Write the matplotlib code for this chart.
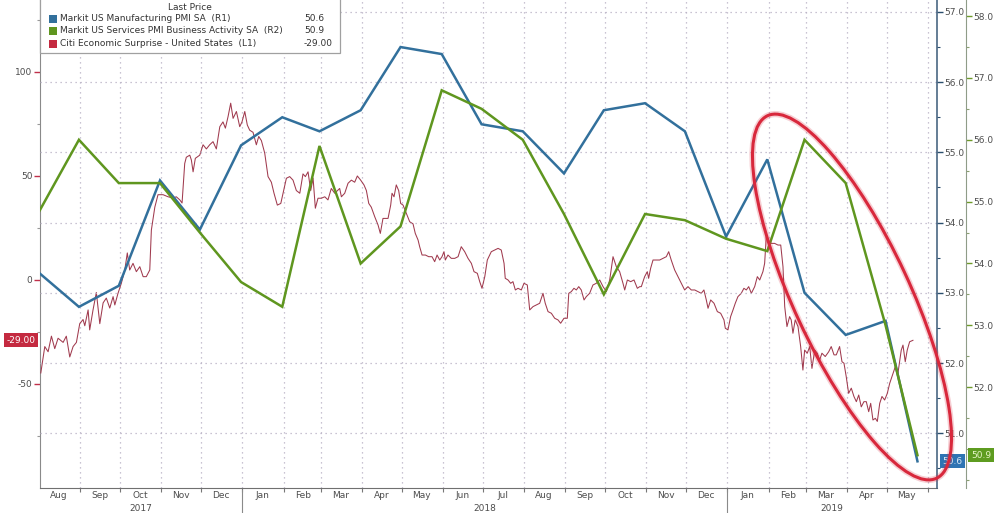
import numpy as np
import matplotlib
matplotlib.use("Agg")
import matplotlib.pyplot as plt
import matplotlib.dates as mdates
import matplotlib.transforms as mtransforms
from matplotlib.patches import Ellipse, Rectangle
from matplotlib.ticker import FixedLocator, NullFormatter, FormatStrFormatter

plt.rcParams['font.family'] = ['DejaVu Sans']
plt.rcParams['axes.unicode_minus'] = False

# ---------------- data ----------------
pmi_dates = ["2017-07-31", "2017-08-31", "2017-09-30", "2017-10-31", "2017-11-30", "2017-12-31",
             "2018-01-31", "2018-02-28", "2018-03-31", "2018-04-30", "2018-05-31", "2018-06-30",
             "2018-07-31", "2018-08-31", "2018-09-30", "2018-10-31", "2018-11-30", "2018-12-31",
             "2019-01-31", "2019-02-28", "2019-03-31", "2019-04-30", "2019-05-24"]
mfg_pmi = [53.3, 52.8, 53.1, 54.6, 53.9, 55.1, 55.5, 55.3, 55.6, 56.5, 56.4, 55.4,
           55.3, 54.7, 55.6, 55.7, 55.3, 53.8, 54.9, 53.0, 52.4, 52.6, 50.6]
svc_pmi = [54.8, 56.0, 55.3, 55.3, 54.5, 53.7, 53.3, 55.9, 54.0, 54.6, 56.8, 56.5,
           56.0, 54.8, 53.5, 54.8, 54.7, 54.4, 54.2, 56.0, 55.3, 53.0, 50.9]

citi_start = "2017-08-01"
citi_days = [1.3, 4.3, 6.8, 9.3, 11.8, 14.3, 18.1, 20.5, 23.1, 25.6, 28.1, 30.6, 33.1, 34.4, 36.9, 38.1,
             40.6, 43.1, 45.7, 48.2, 50.6, 53.2, 55.7, 57.0, 59.4, 61.9, 64.5, 66.4, 68.2, 70.7, 73.2,
             75.8, 78.3, 80.7, 83.3, 84.5, 87.1, 89.5, 93.3, 97.1, 100.8, 103.3, 105.9, 107.6, 109.6,
             110.8, 113.4,
             114.6, 115.9, 117.6, 120.9, 123.4, 125.9, 128.4, 130.9, 133.4, 136.0, 138.4, 140.2, 142.2,
             144.2, 146.0, 148.5, 151.0, 152.7, 154.8, 156.7, 158.5, 161.0, 163.5, 165.3, 167.3, 169.8,
             172.3, 174.8, 176.8, 179.3, 181.9, 183.6, 186.1, 188.6, 191.1, 193.6, 196.2, 198.6, 200.4,
             202.4, 204.4, 206.2, 207.9, 209.9, 212.4, 215.0, 217.4, 219.9, 222.5, 226.2,
             227.5, 230.0, 232.5, 235.0, 237.5, 239.5, 242.0, 244.5, 246.3, 248.1, 250.0, 252.6, 255.1,
             256.8, 258.8, 261.3, 262.6, 264.6, 265.6, 267.1, 268.8, 270.6, 272.1, 273.9, 276.4, 278.9,
             281.4, 283.1, 285.2, 286.4, 288.2, 290.7, 293.2, 295.7, 297.7, 299.5, 301.5, 303.2, 304.7,
             305.7, 307.7, 310.2, 312.8, 315.3, 317.7, 320.3, 322.8, 325.3, 327.3, 329.8, 331.6, 333.3,
             335.4, 337.3, 339.1,
             340.3, 342.9, 345.4, 347.8, 349.9, 350.8, 352.9, 354.9, 356.6, 358.4, 360.4, 362.9, 364.9,
             367.4, 369.2, 371.7, 374.2, 376.7, 379.2, 380.9, 383.0, 385.5, 388.0, 390.5, 392.5, 395.0,
             397.5, 398.6, 400.5, 402.5, 404.3, 406.1, 408.0, 410.1, 411.8, 414.3, 416.8, 419.3, 421.9,
             424.4, 426.9, 429.4, 431.9, 434.4, 436.9, 439.4, 440.7, 442.7, 445.2, 447.7, 450.2, 452.0,
             453.2, 455.7, 457.7, 458.7, 460.2, 462.0, 464.5, 467.0, 469.5, 472.0, 473.8, 475.7, 478.3,
             480.8, 483.3, 485.8, 488.3, 490.8, 493.4, 495.8, 498.3, 500.3, 502.1, 503.4, 505.4, 507.9,
             510.4, 512.9, 515.4, 516.4, 518.4, 520.4, 522.2, 523.9, 525.9, 528.4, 530.4, 532.2, 534.0,
             536.0, 538.5, 540.5, 542.3, 544.7, 546.0, 547.2, 549.0, 551.0, 553.5, 556.0, 558.1, 559.8,
             561.1, 562.8, 564.8,
             566.0, 567.3, 569.0, 571.1, 573.1, 574.8, 576.1, 578.1, 579.9, 581.6, 583.7, 585.6, 587.4,
             589.1, 591.6, 594.2, 596.1, 598.2, 599.9, 602.4, 604.2, 605.7, 607.4, 609.2, 611.2, 613.2,
             615.0, 616.8, 618.7, 620.7, 622.5, 624.3, 625.8, 627.5, 629.3, 630.8, 632.6, 634.3, 636.3,
             638.3, 640.1, 642.6, 644.3, 646.3, 648.8, 650.1, 651.8, 653.3, 655.1, 657.6]
citi_vals = [-44.7, -32, -34.5, -27, -33, -28, -30, -27, -37, -32, -30, -21, -19, -22, -14.4, -24,
             -14.4, -6, -21, -11, -8.7, -13.5, -8, -12, -6.4, -1.6, 4.8, 13, 4.8, 8, 4,
             6.4, 1.6, 1.6, 4.8, 24, 35, 41, 41, 40, 39.4, 40, 38.5, 37, 56,
             59, 60,
             57.7, 52, 58.5, 60, 65, 63, 65, 66.5, 63, 73.7, 76, 73, 78.5,
             85, 77.7, 81, 73.7, 76, 81, 74.5, 72, 71, 65, 69, 67, 61,
             49.7, 47, 41.7, 36, 36.8, 41.7, 48.9, 49.7, 48, 43, 41.7, 51, 49.7,
             52, 43, 49, 34.5, 39.3, 39.3, 40, 38.5, 44, 41.7, 44,
             40, 41.7, 46.5, 48, 47, 50, 48, 45.7, 43, 36.8, 35, 30.4, 26.4,
             22.4, 29.6, 29.6, 29.6, 36, 41.7, 40, 45.7, 43, 36.8, 36, 32, 28,
             27, 22.4, 19.2, 16, 12, 12, 11.2, 11.2, 8.8, 12, 9.6, 11.2, 13.6,
             9.6, 12, 10.4, 10.4, 11.2, 16, 13.6, 10.4, 8, 4, 3.2, -0.8, -4,
             1.6, 9.6, 12,
             13.6, 14.4, 15.2, 14.4, 8, 0.8, 0, -1.6, -0.8, -4.8, -4, -4.8, -1.6,
             -2.4, -14.4, -12.8, -12, -11.2, -6.4, -11.2, -15.2, -16, -18.4, -19.2, -20.8, -18.4,
             -18.4, -6.4, -5.6, -4, -4.8, -3.2, -4.8, -9.6, -8, -6.4, -2.4, -1.6, 0,
             -3.2, -5.6, 0, 11.2, 6.4, 4, -1.6, -4.8, 0, -0.8, 0, -4, -3.2,
             -3.2, 1.6, 4, 0.8, 5.6, 9.6, 9.6, 9.6, 10.4, 11.2, 13.6, 9.6, 4.8,
             1.6, -1.6, -4.8, -3.2, -4.8, -4.8, -5.6, -6.4, -4.8, -9.6, -13.6, -9.6, -11.2,
             -15.2, -16, -19.2, -23.2, -24, -17.6, -14.4, -11.2, -8, -6.4, -4, -4.8, -3.2,
             -6.4, -3.2, 1.6, 0, 4, 8, 20.8, 18.4, 17.6, 17.6, 16.8, 16.8, 6.4,
             -12.8, -22.4, -17.6,
             -19.2, -25.6, -19.2, -22.4, -32, -43.3, -33.7, -35.2, -32, -42.5, -33.7, -35.2, -38.5,
             -35.2, -36.8, -34.5, -32, -36, -36, -32, -39.3, -40, -46.5, -54.5, -52, -56,
             -58.5, -55.3, -61, -58.5, -58.5, -63.3, -59.3, -67.3, -66.5, -68, -59.3, -56, -57.7,
             -54.5, -49.7, -44.9, -41.7, -44.9, -33.7, -31.3, -39.3, -33.7, -29.7, -29.0]

series_names = ["Markit US Manufacturing PMI SA  (R1)",
                "Markit US Services PMI Business Activity SA  (R2)",
                "Citi Economic Surprise - United States  (L1)"]
last_labels = ["50.6", "50.9", "-29.00"]
month_fmt = "%b"
year_labels = ["2017", "2018", "2019"]

# ---------------- styling ----------------
C_BLUE = "#32709c"
C_GREEN = "#5f961f"
C_RED = "#a03a4e"
C_TXT = "#4d4d4d"
GRID = dict(color="#b8b0c4", linestyle=(0, (1, 3)), linewidth=0.9)
FS = 6.5

W, H = 1000, 513
fig = plt.figure(figsize=(W / 100, H / 100), dpi=100)
L, R, B, T = 40 / W, 937 / W, 25 / H, 1.0
ax = fig.add_axes([L, B, R - L, T - B])
ax1 = ax.twinx()
ax2 = ax.twinx()

base = mdates.date2num(np.datetime64(citi_start))
citi_x = base + np.array(citi_days)
pmi_x = mdates.date2num(np.array(pmi_dates, dtype="datetime64[D]"))

ax.plot(citi_x, citi_vals, color=C_RED, lw=0.75, zorder=3)
ax1.plot(pmi_x, mfg_pmi, color=C_BLUE, lw=1.8, solid_joinstyle="miter", zorder=3)
ax2.plot(pmi_x, svc_pmi, color=C_GREEN, lw=1.8, solid_joinstyle="miter", zorder=3)

ax.set_xlim(base + 0.7, base + 675.7)
ax.set_ylim(-100, 134.6)
ax1.set_ylim(50.22, 57.17)
ax2.set_ylim(50.37, 58.26)

# x axis: month ticks at boundaries, labels mid-month
ax.xaxis.set_major_locator(mdates.MonthLocator())
ax.xaxis.set_major_formatter(NullFormatter())
ax.xaxis.set_minor_locator(mdates.MonthLocator(bymonthday=16))
ax.xaxis.set_minor_formatter(mdates.DateFormatter(month_fmt))
ax.tick_params(axis="x", which="major", length=3, color="#777777", width=0.8)
ax.tick_params(axis="x", which="minor", length=0, pad=2.5, labelsize=FS, labelcolor=C_TXT)
ax.grid(axis="x", which="major", **GRID)

# year labels & separators
xmin, xmax = ax.get_xlim()
blend = mtransforms.blended_transform_factory(ax.transData, ax.transAxes)
for ylab in year_labels:
    ys = mdates.date2num(np.datetime64(ylab + "-01-01"))
    ye = mdates.date2num(np.datetime64(str(int(ylab) + 1) + "-01-01"))
    cx = (max(ys, xmin) + min(ye, xmax)) / 2
    ax.text(cx, -0.041, ylab, transform=blend, ha="center", va="center",
            fontsize=FS, color=C_TXT)
    if xmin < ys < xmax:
        ax.plot([ys, ys], [-0.004, -0.055], transform=blend, color="#8a8a8a",
                lw=0.8, clip_on=False)

# left axis
ax.yaxis.set_major_locator(FixedLocator([-50, 0, 50, 100]))
ax.yaxis.set_minor_locator(FixedLocator([-75, -25, 25, 75, 125]))
ax.tick_params(axis="y", which="major", length=4, width=1, color="#c0304a",
               labelsize=FS, labelcolor=C_TXT, pad=1.5)
ax.tick_params(axis="y", which="minor", length=2, width=0.8, color="#999999")

# R1
ax1.yaxis.set_major_locator(FixedLocator(np.arange(51, 57.5, 1.0)))
ax1.yaxis.set_minor_locator(FixedLocator(np.arange(50.5, 57.5, 1.0)))
ax1.yaxis.set_major_formatter(FormatStrFormatter("%.1f"))
ax1.tick_params(axis="y", which="major", length=4, width=1, color="#2c4f6e",
                labelsize=FS, labelcolor=C_TXT, pad=1.5)
ax1.tick_params(axis="y", which="minor", length=2, width=0.8, color="#2c4f6e")
ax1.grid(axis="y", which="major", **GRID)

# R2 (51.0 is hidden behind the last-value box in the reference)
ax2.spines["right"].set_position(("axes", 1 + 29 / 897))
ax2.yaxis.set_major_locator(FixedLocator(np.arange(52, 58.5, 1.0)))
ax2.yaxis.set_minor_locator(FixedLocator(np.arange(50.5, 58.5, 0.5)))
ax2.yaxis.set_major_formatter(FormatStrFormatter("%.1f"))
ax2.tick_params(axis="y", which="major", length=4, width=1, color="#6e9a2a",
                labelsize=FS, labelcolor=C_TXT, pad=1.5)
ax2.tick_params(axis="y", which="minor", length=2, width=0.8, color="#8aa070")

# spines
for a in (ax, ax1, ax2):
    a.spines["top"].set_visible(False)
for a in (ax1, ax2):
    a.spines["left"].set_visible(False)
    a.spines["bottom"].set_visible(False)
    a.patch.set_visible(False)
ax.spines["right"].set_visible(False)
ax.spines["left"].set_color("#8a8a8a")
ax.spines["bottom"].set_color("#707070")
ax1.spines["right"].set_color("#3a5a78")
ax1.spines["right"].set_linewidth(1.1)
ax2.spines["right"].set_color("#8f9c88")

# last value boxes
bl = mtransforms.blended_transform_factory(ax.transAxes, ax.transData)
ax.text(-0.0045, citi_vals[-1], last_labels[2], transform=bl, ha="right", va="center",
        fontsize=FS, color="white", zorder=6, clip_on=False,
        bbox=dict(boxstyle="square,pad=0.28", fc="#c42a40", ec="none"))
b1 = mtransforms.blended_transform_factory(ax1.transAxes, ax1.transData)
ax1.text(1.006, mfg_pmi[-1], last_labels[0], transform=b1, ha="left", va="center",
         fontsize=FS, color="#dce9f6", zorder=6, clip_on=False,
         bbox=dict(boxstyle="square,pad=0.28", fc="#2f74b3", ec="none"))
b2 = mtransforms.blended_transform_factory(ax2.transAxes, ax2.transData)
ax2.text(1 + 34 / 897, svc_pmi[-1], last_labels[1], transform=b2, ha="left", va="center",
         fontsize=FS, color="#e6f5c8", zorder=6, clip_on=False,
         bbox=dict(boxstyle="square,pad=0.3", fc="#5e9c20", ec="none"))

# legend box (Bloomberg style)
def fx(px):
    return px / W
def fy(py):
    return 1 - py / H

fig.add_artist(Rectangle((fx(40), fy(53)), fx(300), fy(0) - fy(53) + 0.01,
                         transform=fig.transFigure, fc="white", ec="#a0a0a0",
                         lw=0.9, zorder=10))
fig.text(fx(190), fy(7.5), "Last Price", ha="center", va="center", fontsize=FS,
         color="#333333", zorder=11)
row_y = [18.5, 31, 43.5]
row_c = [C_BLUE, C_GREEN, "#c42a40"]
for yy, col, name, val in zip(row_y, row_c, series_names, last_labels):
    fig.add_artist(Rectangle((fx(49), fy(yy + 4)), fx(8), fy(yy - 4) - fy(yy + 4),
                             transform=fig.transFigure, fc=col, ec="none", zorder=11))
    fig.text(fx(60), fy(yy), name, ha="left", va="center", fontsize=FS,
             color="#333333", zorder=11)
    fig.text(fx(304), fy(yy), val, ha="left", va="center", fontsize=FS,
             color="#333333", zorder=11)

# red ellipse annotation (pixel units)
idt = mtransforms.IdentityTransform()
for lw, al in ((4.5, 0.22), (2.2, 1.0)):
    fig.add_artist(Ellipse((852, H - 297), 400, 116, angle=-65, transform=idt,
                           fill=False, ec="#d8283c", lw=lw, alpha=al, zorder=8))

fig.savefig("out.png", dpi=100)
